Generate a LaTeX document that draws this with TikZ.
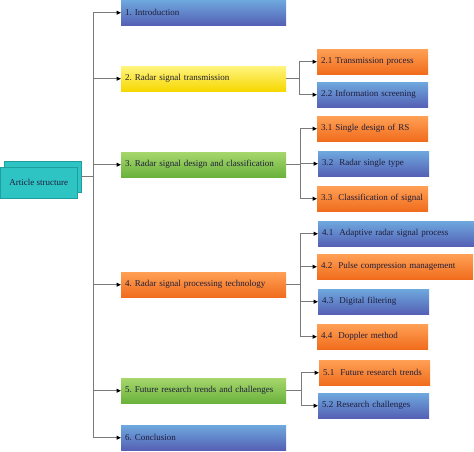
\documentclass[tikz,border=0pt]{standalone}
\usepackage{fontspec}
\setmainfont{Liberation Serif}
\usetikzlibrary{arrows.meta,calc}
\frenchspacing
\definecolor{txt}{HTML}{1E1E3C}
\definecolor{lnc}{HTML}{7A7A7A}
\definecolor{bluT}{HTML}{6EA8DE}
\definecolor{bluB}{HTML}{5560B4}
\definecolor{orT}{HTML}{FFA055}
\definecolor{orB}{HTML}{F06C1C}
\definecolor{grT}{HTML}{A6D66C}
\definecolor{grB}{HTML}{6AB23C}
\definecolor{yeT}{HTML}{FFF47E}
\definecolor{yeB}{HTML}{F6D800}
\definecolor{tealF}{HTML}{2FC4C4}
\definecolor{tealD}{HTML}{1E9E9E}
\tikzset{
  box/.style={anchor=north west, inner xsep=4pt, inner ysep=0pt, align=left,
    minimum height=25pt, text=txt, font=\fontsize{9}{10}\selectfont\frenchspacing},
  lvlA/.style={box, text width=157pt},
  lvlB/.style={box, text width=103pt},
  lvlC/.style={box, text width=148pt},
  bluebox/.style={top color=bluT, bottom color=bluB},
  orbox/.style={top color=orT, bottom color=orB},
  grbox/.style={top color=grT, bottom color=grB},
  yebox/.style={top color=yeT, bottom color=yeB},
  tealbox/.style={fill=tealF, draw=tealD, line width=0.4pt, minimum width=77pt, minimum height=31pt,
    anchor=north west, text=txt, font=\fontsize{9}{10}\selectfont},
  conn/.style={draw=lnc, line width=1pt},
  arr/.style={conn, -{Triangle[length=4.5pt,width=4pt,color=black]}}
}
\begin{document}
\begin{tikzpicture}[x=1pt,y=-1pt]
\useasboundingbox (0,0) rectangle (474,451);
% article structure
\node[tealbox] (asb) at (4,161) {};
\node[tealbox] (as) at (0,167) {Article structure};
\coordinate (t) at (93,176);
\draw[conn] (asb.east |- t) -- (t);
% level 1
\node[lvlA, bluebox] (n1) at (121,0) {1. Introduction};
\node[lvlA, yebox] (n2) at (121,66) {2. Radar signal transmission};
\node[lvlA, grbox] (n3) at (121,152) {3. Radar signal design and classification};
\node[lvlA, orbox] (n4) at (121,272) {4. Radar signal processing technology};
\node[lvlA, grbox] (n5) at (121,378) {5. Future research trends and challenges};
\node[lvlA, bluebox] (n6) at (121,425) {6. Conclusion};
\foreach \n in {n1,n2,n3,n4,n5,n6} \draw[arr] (t) |- (\n.west);
% level 2
\node[lvlB, orbox] (n21) at (317,49) {2.1 Transmission process};
\node[lvlB, bluebox] (n22) at (317,82) {2.2 Information screening};
\node[lvlB, orbox] (n31) at (317,116) {3.1 Single design of RS};
\node[lvlB, bluebox] (n32) at (318,151) {3.2\ \ Radar single type};
\node[lvlB, orbox] (n33) at (317,186) {3.3\ \ Classification of signal};
\node[lvlC, bluebox] (n41) at (318,221) {4.1\ \ Adaptive radar signal process};
\node[lvlC, orbox] (n42) at (317,254) {4.2\ \ Pulse compression management};
\node[lvlB, bluebox] (n43) at (318,289) {4.3\ \ Digital filtering};
\node[lvlB, orbox] (n44) at (317,324) {4.4\ \ Doppler method};
\node[lvlB, orbox] (n51) at (319,360) {5.1\ \ Future research trends};
\node[lvlB, bluebox] (n52) at (318,393) {5.2 Research challenges};
% junctions
\coordinate (j2) at (299,0 |- n2.east);
\coordinate (j3) at (300,0 |- n3.east);
\coordinate (j4) at (300,0 |- n4.east);
\coordinate (j5) at (301,0 |- n5.east);
\draw[conn] (n2.east) -- (j2);
\draw[conn] (n3.east) -- (j3);
\draw[conn] (n4.east) -- (j4);
\draw[conn] (n5.east) -- (j5);
\foreach \n in {n21,n22} \draw[arr] (j2) |- (\n.west);
\foreach \n in {n31,n32,n33} \draw[arr] (j3) |- (\n.west);
\foreach \n in {n41,n42,n43,n44} \draw[arr] (j4) |- (\n.west);
\foreach \n in {n51,n52} \draw[arr] (j5) |- (\n.west);
\end{tikzpicture}
\end{document}
